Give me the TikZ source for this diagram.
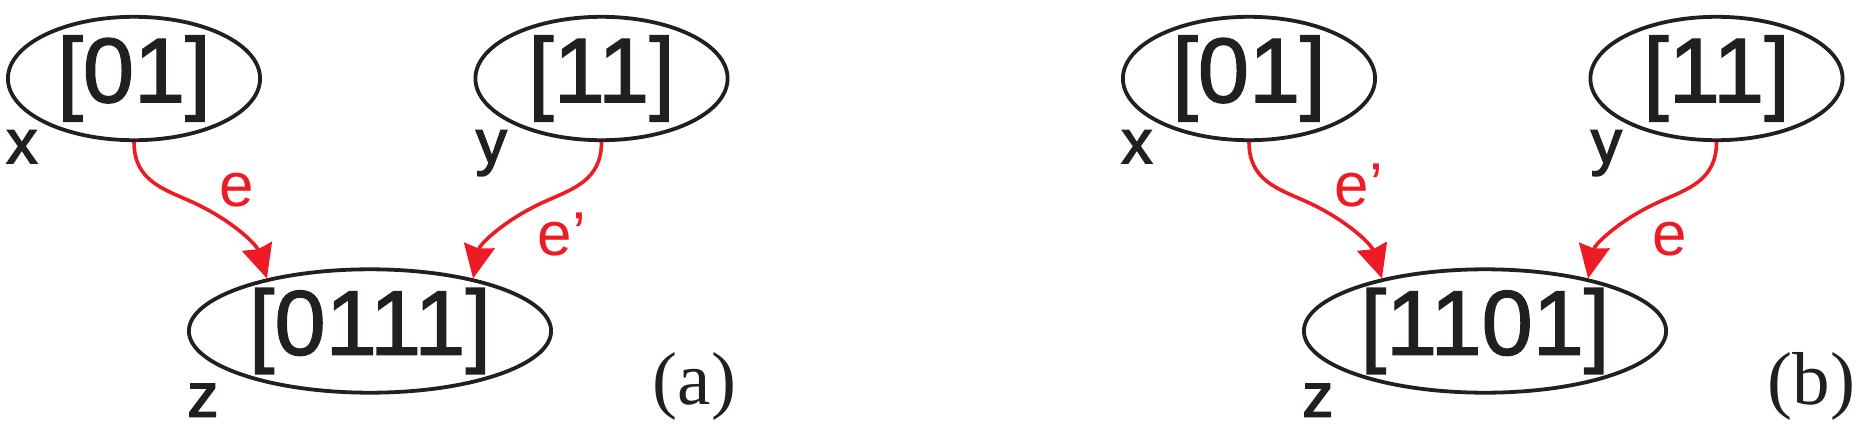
\documentclass[tikz,border=0pt]{standalone}
\usepackage{fontspec}
\setmainfont{Liberation Sans}
\newfontfamily\tagfont{Liberation Serif}
\newfontfamily\varfont[FakeBold=2.5]{Liberation Sans}
\newfontfamily\clsfont[FakeBold=1.5]{Liberation Sans}
\usepackage{tikz}
\usetikzlibrary{arrows.meta,shapes.geometric,positioning}
\definecolor{inkblack}{RGB}{35,31,32}
\definecolor{edgered}{RGB}{237,28,36}
\tikzstyle{flow} = [draw=edgered, line width=1.8pt,%
	-{Stealth[length=16.75pt,width=15.5pt,inset=1.5pt]}]

\begin{document}
\begin{tikzpicture}[x=0.5pt,y=-0.5pt,node distance=233.75pt,on grid]
    \tikzstyle{cls}=[ellipse,draw=inkblack,line width=1.9pt,inner sep=0pt,text=inkblack,%
	minimum width=126.1pt,minimum height=61.7pt,font=\clsfont\fontsize{46}{46}\selectfont]
    \tikzstyle{var}=[inner sep=0pt,anchor=base west,text=inkblack,font=\varfont\fontsize{31}{31}\selectfont]
    \tikzstyle{elab}=[inner sep=0pt,anchor=base west,text=edgered,font=\fontsize{31}{31}\selectfont]
    \tikzstyle{tag}=[inner sep=0pt,anchor=base west,text=inkblack,font=\tagfont\fontsize{37.5}{37.5}\selectfont]
    \useasboundingbox (0,0) rectangle (1860,445);
    % (a)
    \begin{scope}
    \node[cls] (xa) at (134,78.5) {[01]};
    \node[cls,right=of xa] (ya) {[11]};
    \node[cls,minimum width=181.1pt,below right=126.25pt and 118pt of xa] (za) {[0111]};
    \node[var] (xa-lbl) at ([yshift=-10.5pt]xa.west |- xa.south) {x};
    \node[var] (ya-lbl) at ([yshift=-10.5pt,xshift=1pt]ya.west |- ya.south) {y};
    \node[var] (za-lbl) at ([yshift=-11pt]za.west |- za.south) {z};
    \draw[flow] (xa.south) .. controls (134,180) and (162.6,188.8) .. (190,201)
	.. controls (231.1,219.3) and (256.4,244.4) .. (za.153);
    \draw[flow] (ya.south) .. controls (601.5,180) and (573.4,188.8) .. (546,201)
	.. controls (504.9,219.3) and (479.6,244.4) .. (za.27);
    \node[elab] (ea) at (219.5,206) {e};
    \node[elab] (ea') at (537.5,255) {e’};
    \node[tag] (taga) at (652.5,404) {(a)};
    \end{scope}
    % (b)
    \begin{scope}[xshift=557.5pt]
    \node[cls] (xb) at (134,78.5) {[01]};
    \node[cls,right=of xb] (yb) {[11]};
    \node[cls,minimum width=181.1pt,below right=126.25pt and 118pt of xb] (zb) {[1101]};
    \node[var] (xb-lbl) at ([yshift=-10.5pt]xb.west |- xb.south) {x};
    \node[var] (yb-lbl) at ([yshift=-10.5pt,xshift=1pt]yb.west |- yb.south) {y};
    \node[var] (zb-lbl) at ([yshift=-11pt]zb.west |- zb.south) {z};
    \draw[flow] (xb.south) .. controls (134,180) and (162.6,188.8) .. (190,201)
	.. controls (231.1,219.3) and (256.4,244.4) .. (zb.153);
    \draw[flow] (yb.south) .. controls (601.5,180) and (573.4,188.8) .. (546,201)
	.. controls (504.9,219.3) and (479.6,244.4) .. (zb.27);
    \node[elab] (eb') at (219.5,206) {e’};
    \node[elab] (eb) at (537.5,255) {e};
    \node[tag] (tagb) at (652.5,404) {(b)};
    \end{scope}
\end{tikzpicture}
\end{document}
